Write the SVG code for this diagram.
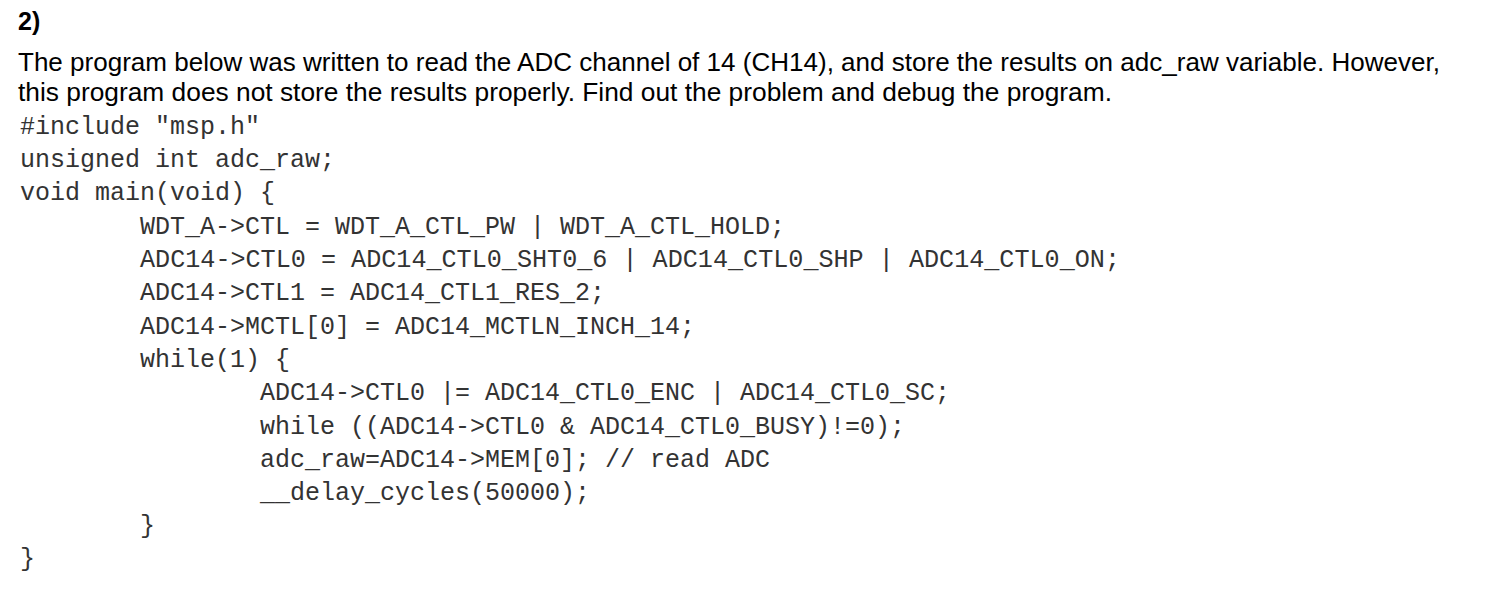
<svg xmlns="http://www.w3.org/2000/svg" width="1496" height="590" viewBox="0 0 1496 590">
<style>
.h{font-family:"Liberation Sans",Arial,sans-serif;font-size:25px;fill:#000}
.c{font-family:"Liberation Mono","DejaVu Sans Mono",monospace;font-size:25px;fill:#333;white-space:pre}
</style>
<rect width="1496" height="590" fill="#fff"/>
<g id="question">
<text class="h" x="18" y="30" font-weight="bold">2)</text>
<text class="h" x="18" y="71" textLength="1422" lengthAdjust="spacingAndGlyphs">The program below was written to read the ADC channel of 14 (CH14), and store the results on adc_raw variable. However,</text>
<text class="h" x="18" y="101" textLength="1094" lengthAdjust="spacingAndGlyphs">this program does not store the results properly. Find out the problem and debug the program.</text>
</g>
<g id="code">
<text class="c" x="20" y="134">#include "msp.h"</text>
<text class="c" x="20" y="167">unsigned int adc_raw;</text>
<text class="c" x="20" y="200">void main(void) {</text>
<text class="c" x="140" y="234">WDT_A-&gt;CTL = WDT_A_CTL_PW | WDT_A_CTL_HOLD;</text>
<text class="c" x="140" y="267" textLength="980" lengthAdjust="spacingAndGlyphs">ADC14-&gt;CTL0 = ADC14_CTL0_SHT0_6 | ADC14_CTL0_SHP | ADC14_CTL0_ON;</text>
<text class="c" x="140" y="300">ADC14-&gt;CTL1 = ADC14_CTL1_RES_2;</text>
<text class="c" x="140" y="334">ADC14-&gt;MCTL[0] = ADC14_MCTLN_INCH_14;</text>
<text class="c" x="140" y="367">while(1) {</text>
<text class="c" x="260" y="400">ADC14-&gt;CTL0 |= ADC14_CTL0_ENC | ADC14_CTL0_SC;</text>
<text class="c" x="260" y="434">while ((ADC14-&gt;CTL0 &amp; ADC14_CTL0_BUSY)!=0);</text>
<text class="c" x="260" y="467">adc_raw=ADC14-&gt;MEM[0]; // read ADC</text>
<text class="c" x="260" y="500">__delay_cycles(50000);</text>
<text class="c" x="140" y="533">}</text>
<text class="c" x="20" y="566">}</text>
</g>
</svg>
